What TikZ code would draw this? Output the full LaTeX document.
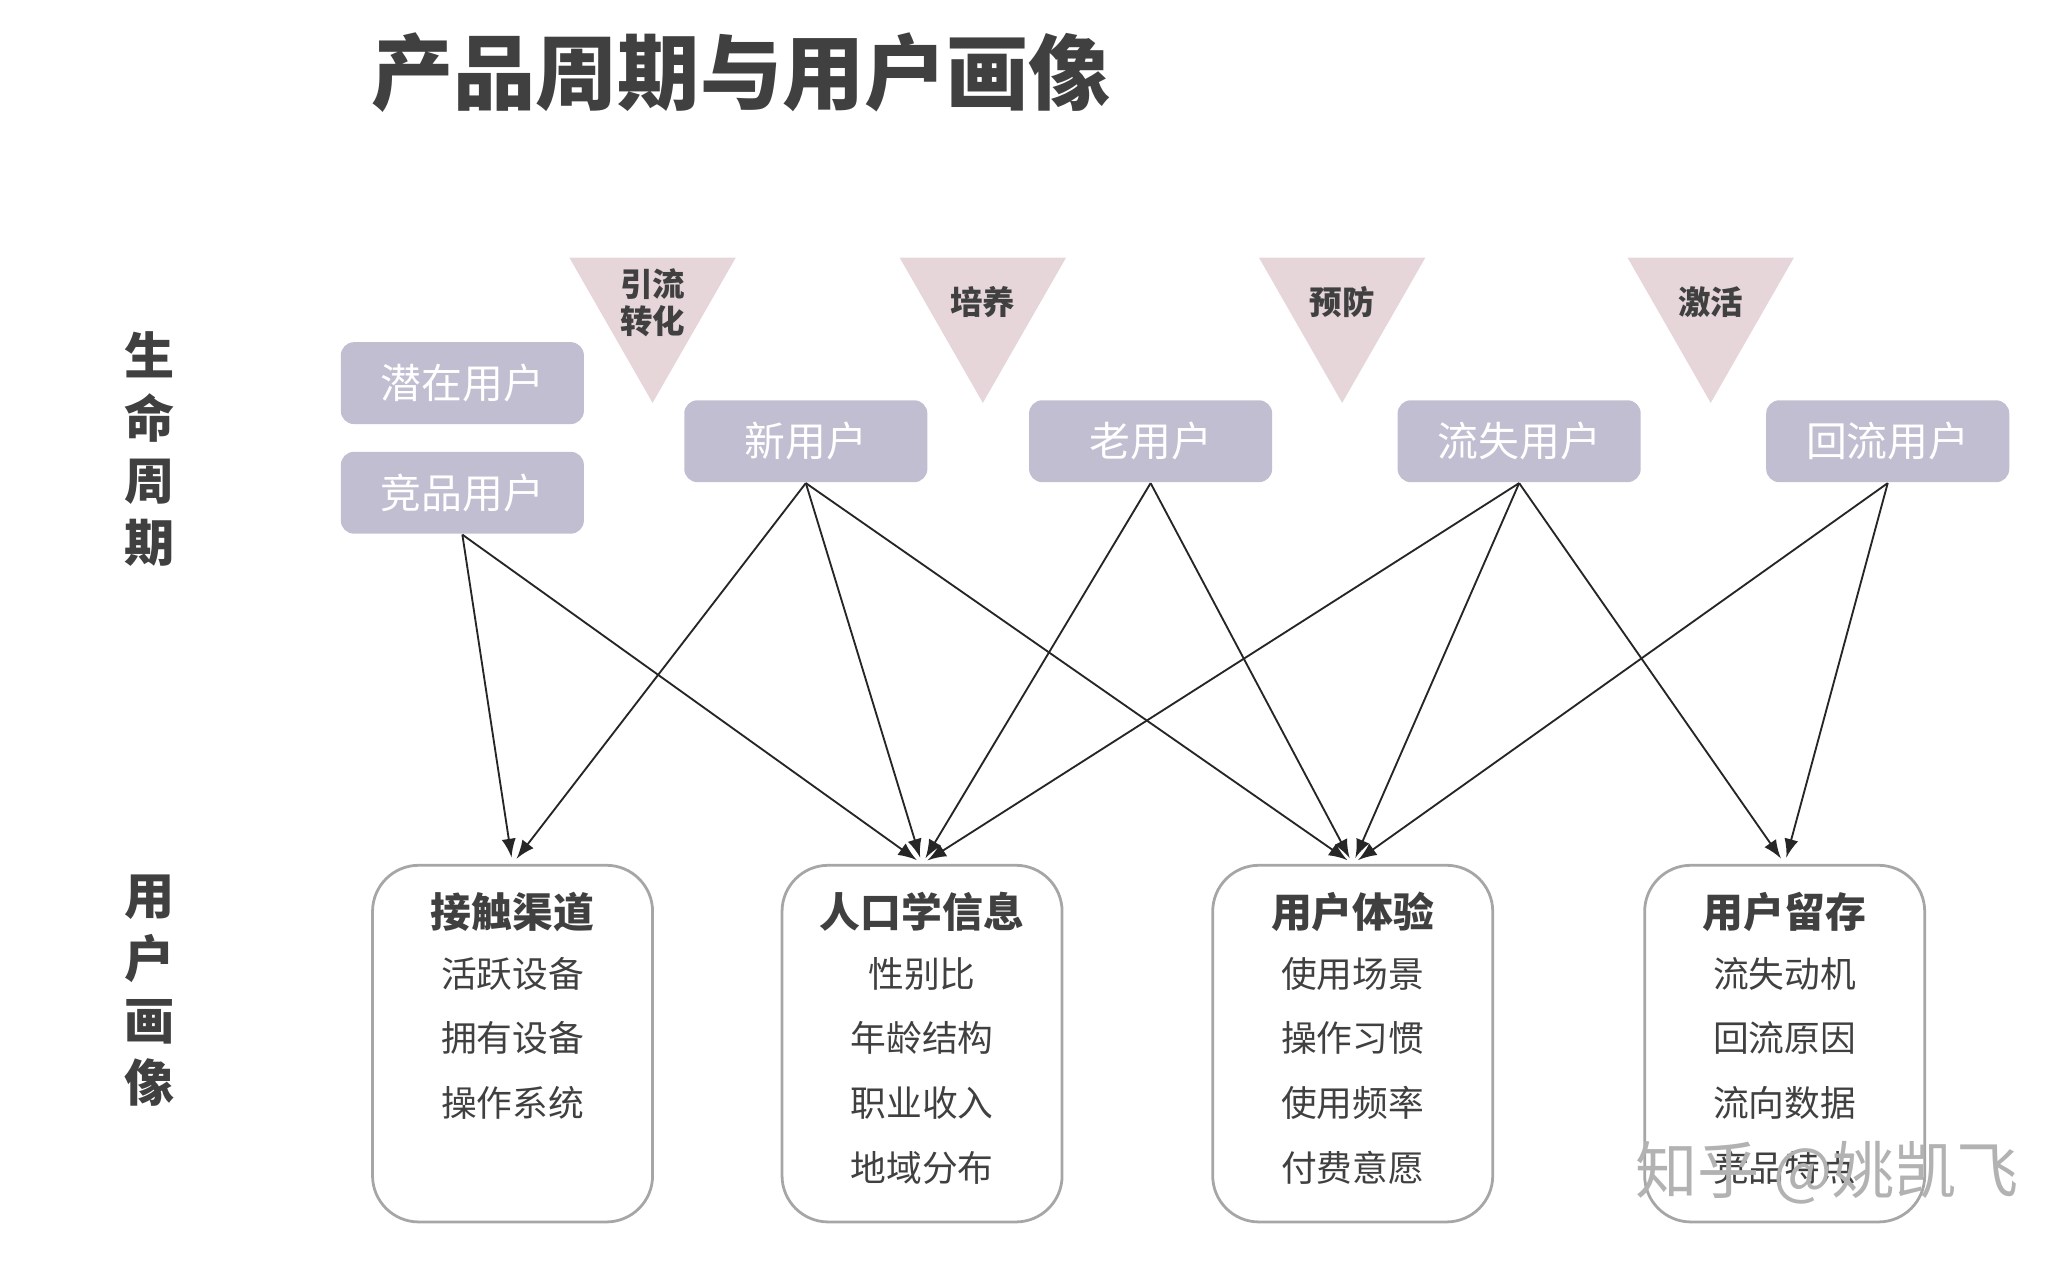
\documentclass[tikz,border=0pt]{standalone}
\usepackage{fontspec}
\setmainfont{Noto Sans CJK SC}
\usepackage{xcolor}
\usetikzlibrary{arrows,positioning}
\definecolor{txt}{HTML}{404040}
\definecolor{lav}{HTML}{C0BED0}
\definecolor{pinky}{HTML}{E6D6DA}
\definecolor{rim}{HTML}{A6A6A6}

\begin{document}
\begin{tikzpicture}[x=0.1mm,y=-0.1mm]
\tikzset{stage/.style={fill=lav,rounded corners=1mm,minimum width=18.4mm,minimum height=6.2mm,inner sep=0pt,text=white,font=\fontsize{8.8}{10}\selectfont}}
\tikzset{card/.style={draw=rim,line width=0.6pt,rounded corners=3.5mm,minimum width=21.2mm,minimum height=27mm}}
\tikzset{head/.style={text=txt,font=\fontsize{8.8}{10}\selectfont\bfseries}}
\tikzset{item/.style={text=txt,font=\fontsize{7.7}{9}\selectfont}}
\tikzset{tri/.style={fill=pinky}}
\tikzset{tlab/.style={text=txt,align=center,font=\fontsize{7}{8}\selectfont\bfseries}}
\tikzset{side/.style={text=txt,align=center,font=\fontsize{10.8}{13.4}\selectfont\bfseries}}
\tikzset{link/.style={-latex,draw=black!85,line width=0.4pt,shorten >=0.5mm}}

\useasboundingbox (0,0) rectangle (1567,954);

\node[text=txt,font=\fontsize{17.7}{20}\selectfont\bfseries] (title) at (561,55) {产品周期与用户画像};

\node[side] (sm) at (113,340) {生\\命\\周\\期};
\node[side] (hx) at (113,750) {用\\户\\画\\像};

% funnel marks between stages
\foreach \x/\t [count=\i] in {494/{引流\\转化},744/培养,1016/预防,1295/激活}{
  \fill[tri] (\x-63,195) -- (\x+63,195) -- (\x,305) -- cycle;
  \node[tlab] (t\i) at (\x,229) {\t};
}

% lifecycle stages
\node[stage] (qz) at (350,290) {潜在用户};
\node[stage] (jp) at (350,373) {竞品用户};
\node[stage] (xin) at (610,334) {新用户};
\node[stage] (lao) at (871,334) {老用户};
\node[stage] (ls) at (1150,334) {流失用户};
\node[stage] (hl) at (1429,334) {回流用户};

% portrait cards
\node[card] (qd) at (388,790) {};
\node[card] (rk) at (698,790) {};
\node[card] (ty) at (1024,790) {};
\node[card] (lc) at (1351,790) {};

\node[head] (qd-h) at (388,690) {接触渠道};
\node[head] (rk-h) at (698,690) {人口学信息};
\node[head] (ty-h) at (1024,690) {用户体验};
\node[head] (lc-h) at (1351,690) {用户留存};

\foreach \t [count=\i] in {活跃设备,拥有设备,操作系统}
  \node[item] (qd-\i) at (388,688+49*\i) {\t};
\foreach \t [count=\i] in {性别比,年龄结构,职业收入,地域分布}
  \node[item] (rk-\i) at (698,688+49*\i) {\t};
\foreach \t [count=\i] in {使用场景,操作习惯,使用频率,付费意愿}
  \node[item] (ty-\i) at (1024,688+49*\i) {\t};
\foreach \t [count=\i] in {流失动机,回流原因,流向数据,竞品特点}
  \node[item] (lc-\i) at (1351,688+49*\i) {\t};

\foreach \a/\b in {jp/qd,jp/rk,xin/qd,xin/rk,xin/ty,lao/rk,lao/ty,ls/rk,ls/ty,ls/lc,hl/ty,hl/lc}
  \draw[link] (\a.south) -- (\b.north);

\node[text=black!30,font=\fontsize{13.4}{15}\selectfont] (wm) at (1383,888) {知乎 @姚凯飞};

\end{tikzpicture}
\end{document}
